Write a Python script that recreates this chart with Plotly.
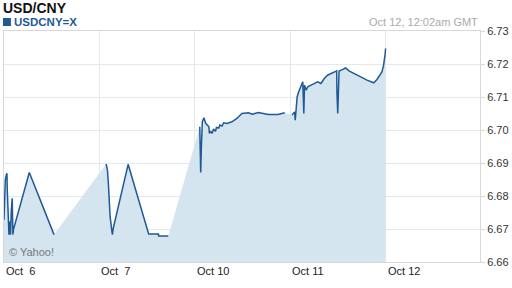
import plotly.graph_objects as go

# ---- data ----
day_ticks = [0, 1, 2, 3, 4]
day_labels = ["Oct\u00a0\u00a06", "Oct\u00a0\u00a07", "Oct 10", "Oct 11", "Oct 12"]
y_ticks = [6.66, 6.67, 6.68, 6.69, 6.70, 6.71, 6.72, 6.73]

oct6_x = [0.000, 0.006, 0.014, 0.024, 0.031, 0.034, 0.045, 0.052, 0.055, 0.062, 0.068,
          0.076, 0.086, 0.093, 0.099, 0.265, 0.524]
oct6_y = [6.6728, 6.6813, 6.6850, 6.6864, 6.6869, 6.6820, 6.6728, 6.6683, 6.6698, 6.6723,
          6.6683, 6.6753, 6.6793, 6.6683, 6.6698, 6.6871, 6.6683]

oct7_x = [1.070, 1.083, 1.093, 1.111, 1.128, 1.135, 1.145, 1.300, 1.515, 1.618, 1.619, 1.721]
oct7_y = [6.6897, 6.6879, 6.6839, 6.6738, 6.6698, 6.6683, 6.6703, 6.6896, 6.6685, 6.6685,
          6.6679, 6.6679]

oct10_x = [2.050, 2.060, 2.066, 2.077, 2.094, 2.112, 2.146, 2.150, 2.165, 2.180, 2.195,
           2.215, 2.225, 2.249, 2.260, 2.284, 2.300, 2.335, 2.387, 2.439, 2.491, 2.560,
           2.600, 2.664, 2.767, 2.871, 2.940]
oct10_y = [6.7010, 6.6871, 6.6939, 6.7025, 6.7037, 6.7020, 6.7010, 6.6990, 6.6995, 6.6990,
           6.7003, 6.6996, 6.7008, 6.7006, 6.7015, 6.7012, 6.7022, 6.7020, 6.7025, 6.7035,
           6.7050, 6.7052, 6.7048, 6.7053, 6.7047, 6.7047, 6.7052]

oct11_x = [3.016, 3.026, 3.043, 3.050, 3.060, 3.070, 3.085, 3.095, 3.112, 3.129, 3.140,
           3.147, 3.164, 3.181, 3.216, 3.251, 3.285, 3.319, 3.354, 3.388, 3.440, 3.484,
           3.487, 3.495, 3.502, 3.509, 3.544, 3.578, 3.613, 3.665, 3.733, 3.802, 3.872,
           3.906, 3.958, 3.975, 3.992, 3.996]
oct11_y = [6.7045, 6.7050, 6.7055, 6.7030, 6.7085, 6.7100, 6.7115, 6.7121, 6.7131, 6.7146,
           6.7050, 6.7136, 6.7121, 6.7131, 6.7136, 6.7141, 6.7146, 6.7141, 6.7156, 6.7166,
           6.7173, 6.7179, 6.7113, 6.7050, 6.7113, 6.7179, 6.7183, 6.7188, 6.7179, 6.7171,
           6.7161, 6.7151, 6.7143, 6.7153, 6.7176, 6.7196, 6.7231, 6.7247]

segments_x = [oct6_x, oct7_x, oct10_x, oct11_x]
segments_y = [oct6_y, oct7_y, oct10_y, oct11_y]

# ---- styles ----
LINE = "#1f5a96"
FILL = "#d5e5f0"
GRID = "#e4e9ef"
AXIS = "#d8d8d8"
FONT = "Liberation Sans, Arial, sans-serif"

fill_x, fill_y, line_x, line_y = [], [], [], []
for i, (sx, sy) in enumerate(zip(segments_x, segments_y)):
    fill_x += sx
    fill_y += sy
    if i > 0:
        line_x.append(None)
        line_y.append(None)
    line_x += sx
    line_y += sy

fig = go.Figure()
fig.add_trace(go.Scatter(x=fill_x, y=fill_y, mode="lines", line=dict(width=0, color=FILL),
                         fill="tozeroy", fillcolor=FILL, hoverinfo="skip", showlegend=False))
fig.add_trace(go.Scatter(x=line_x, y=line_y, mode="lines", line=dict(width=1.5, color=LINE),
                         connectgaps=False, showlegend=False))

W0, W1 = 3, 484
T0, T1 = 31, 262
def px(x):
    return (x - W0) / (W1 - W0)
def py(y):
    return (T1 - y) / (T1 - T0)

annotations = [
    dict(text="<b>USD/CNY</b>", xref="paper", yref="paper", x=px(1), y=py(7.5),
         xanchor="left", yanchor="middle", showarrow=False, borderpad=0,
         font=dict(family=FONT, size=14, color="#111111")),
    dict(text="<b>USDCNY=X</b>", xref="paper", yref="paper", x=px(12), y=py(22.5),
         xanchor="left", yanchor="middle", showarrow=False, borderpad=0,
         font=dict(family=FONT, size=11.5, color=LINE)),
    dict(text="Oct 12, 12:02am GMT", xref="paper", yref="paper", x=px(483), y=py(22),
         xanchor="right", yanchor="middle", showarrow=False, borderpad=0,
         font=dict(family=FONT, size=11, color="#aaaaaa")),
    dict(text="© Yahoo!", xref="paper", yref="paper", x=px(6), y=py(252),
         xanchor="left", yanchor="middle", showarrow=False,
         font=dict(family=FONT, size=11, color="#777777")),
]
for d, lab in zip(day_ticks, day_labels):
    annotations.append(dict(text=lab, xref="x", yref="paper", x=d, y=py(271),
                            xanchor="left", yanchor="middle", showarrow=False, xshift=0,
                            font=dict(family=FONT, size=11, color="#222222")))

fig.update_layout(
    width=512, height=288,
    margin=dict(l=W0, r=512 - W1, t=T0, b=288 - T1, pad=0),
    paper_bgcolor="white", plot_bgcolor="white",
    font=dict(family=FONT, size=11, color="#333333"),
    annotations=annotations,
    shapes=[dict(type="rect", xref="paper", yref="paper",
                 x0=px(2), x1=px(10), y0=py(26), y1=py(18),
                 fillcolor=LINE, line=dict(width=0))],
    xaxis=dict(range=[0, 4.985], tickvals=day_ticks, showticklabels=False,
               showgrid=True, gridcolor=GRID, gridwidth=1, zeroline=False,
               showline=True, linecolor=AXIS, linewidth=1, mirror=True, ticks=""),
    yaxis=dict(range=[6.66, 6.73], tickvals=y_ticks, tickformat=".2f", side="right",
               showgrid=True, gridcolor=GRID, gridwidth=1, zeroline=False,
               showline=True, linecolor=AXIS, linewidth=1, mirror=True,
               ticks="outside", ticklen=4, tickcolor=AXIS,
               tickfont=dict(family=FONT, size=11, color="#333333")),
)

fig.write_html("out.html")
